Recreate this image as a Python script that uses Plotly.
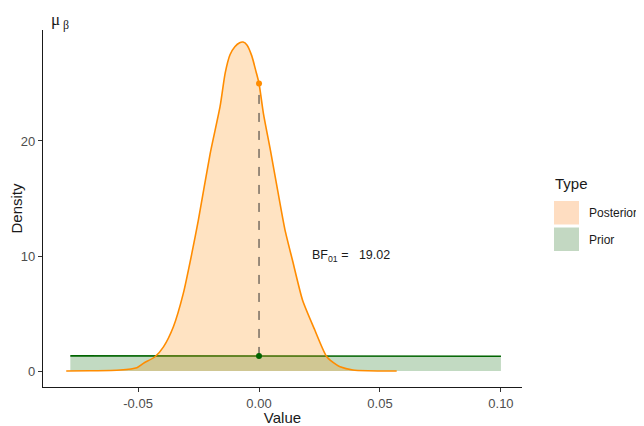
import plotly.graph_objects as go

# posterior density
post_x = [-0.0797, -0.070, -0.0574, -0.0505, -0.0478, -0.0430, -0.0395, -0.0354, -0.0313,
          -0.0278, -0.0251, -0.0202, -0.0161, -0.0140, -0.0120, -0.0100, -0.0080, -0.0066,
          -0.0050, -0.0030, -0.0012, 0.0, 0.0018, 0.0047, 0.0077, 0.0107,
          0.0138, 0.0180, 0.0231, 0.0280, 0.0321, 0.0335, 0.0388, 0.0450, 0.0569]
post_y = [0.0, 0.02, 0.09, 0.29, 0.67, 1.24, 2.10, 3.85, 6.75,
          10.2, 13.1, 18.9, 23.0, 25.9, 27.5, 28.2, 28.55, 28.6,
          28.35, 27.4, 26.0, 25.0, 22.4, 19.2, 15.7, 12.3,
          9.65, 6.15, 3.54, 1.24, 0.53, 0.37, 0.09, 0.02, 0.0]

# prior density
prior_x = [-0.078, -0.04, 0.0, 0.05, 0.10]
prior_y = [1.32, 1.32, 1.31, 1.30, 1.29]

point_x = 0.0
post_at_0 = 25.0
prior_at_0 = 1.31
bf01 = "19.02"

x_ticks = [-0.05, 0.0, 0.05, 0.10]
x_ticklabels = ["-0.05", "0.00", "0.05", "0.10"]
y_ticks = [0, 10, 20]

legend_labels = ["Posterior", "Prior"]
legend_colors = ["#FEDDC1", "#C3D8C2"]

ORANGE = "#FF8C00"
GREEN = "#006400"

fig = go.Figure()
fig.add_trace(go.Scatter(x=prior_x, y=prior_y, fill="tozeroy", mode="lines",
                         fillcolor="rgba(0,100,0,0.24)", line=dict(color=GREEN, width=1.6),
                         showlegend=False, hoverinfo="skip"))
fig.add_trace(go.Scatter(x=post_x, y=post_y, fill="tozeroy", mode="lines",
                         fillcolor="rgba(255,140,0,0.24)",
                         line=dict(color=ORANGE, width=1.6, shape="spline", smoothing=0.6),
                         showlegend=False, hoverinfo="skip"))
fig.add_trace(go.Scatter(x=[point_x, point_x], y=[prior_at_0, post_at_0], mode="lines",
                         line=dict(color="#333333", width=1, dash="dash"),
                         showlegend=False, hoverinfo="skip"))
fig.add_trace(go.Scatter(x=[point_x], y=[post_at_0], mode="markers",
                         marker=dict(color=ORANGE, size=6), showlegend=False))
fig.add_trace(go.Scatter(x=[point_x], y=[prior_at_0], mode="markers",
                         marker=dict(color=GREEN, size=6), showlegend=False))

fig.add_annotation(x=0.021, y=10, xref="x", yref="y", xanchor="left", yanchor="middle",
                   text="BF<sub>01</sub> =   " + bf01, showarrow=False,
                   font=dict(size=12.5, color="#1a1a1a"))

# the page puts the figure 8px in from the top-left corner (body margin)
OFF = 8
W, H = 644 - OFF, 426 - OFF
L, R, T, B = 43 - OFF, 122, 30 - OFF, 39
pw, ph = W - L - R, H - T - B


def px(x):
    return (x - OFF - L) / pw


def py(y):
    return (H - B - (y - OFF)) / ph


# title
fig.add_annotation(x=px(49), y=py(8.5), xref="paper", yref="paper", xanchor="left",
                   yanchor="top", text="μ<sub> β</sub>", showarrow=False,
                   font=dict(size=17, color="#1a1a1a", family="Liberation Serif"))

# legend drawn by hand (ggplot style)
fig.add_annotation(x=px(553), y=py(183), xref="paper", yref="paper", xanchor="left",
                   yanchor="middle", text="Type", showarrow=False,
                   font=dict(size=15, color="#1a1a1a"))
for i, (lab, col) in enumerate(zip(legend_labels, legend_colors)):
    top = 201 + i * 26.5
    fig.add_shape(type="rect", xref="paper", yref="paper",
                  x0=px(554), x1=px(579), y0=py(top), y1=py(top + 23.5),
                  fillcolor=col, line=dict(width=0))
    fig.add_annotation(x=px(587), y=py(top + 12), xref="paper", yref="paper",
                       xanchor="left", yanchor="middle", text=lab, showarrow=False,
                       font=dict(size=12, color="#1a1a1a"))

fig.update_layout(
    width=W, height=H,
    margin=dict(l=L, r=R, t=T, b=B, autoexpand=False),
    plot_bgcolor="white", paper_bgcolor="white",
    font=dict(family="Liberation Sans, Arial", color="#1a1a1a"),
    showlegend=False,
)
fig.update_xaxes(range=[-0.0893, 0.1087], tickvals=x_ticks, ticktext=x_ticklabels,
                 automargin=False,
                 showgrid=False, zeroline=False, showline=True, linecolor="#1a1a1a",
                 linewidth=1.2, ticks="outside", ticklen=4, tickcolor="#333333",
                 tickfont=dict(size=13, color="#4D4D4D"),
                 title=dict(text="Value", font=dict(size=15, color="#1a1a1a"), standoff=2))
fig.update_yaxes(range=[-1.39, 29.65], tickvals=y_ticks, automargin=False,
                 showgrid=False, zeroline=False, showline=True, linecolor="#1a1a1a",
                 linewidth=1.2, ticks="outside", ticklen=4, tickcolor="#333333",
                 tickfont=dict(size=13, color="#4D4D4D"),
                 title=dict(text="Density", font=dict(size=15, color="#1a1a1a"), standoff=4))

fig.write_html("out.html")
